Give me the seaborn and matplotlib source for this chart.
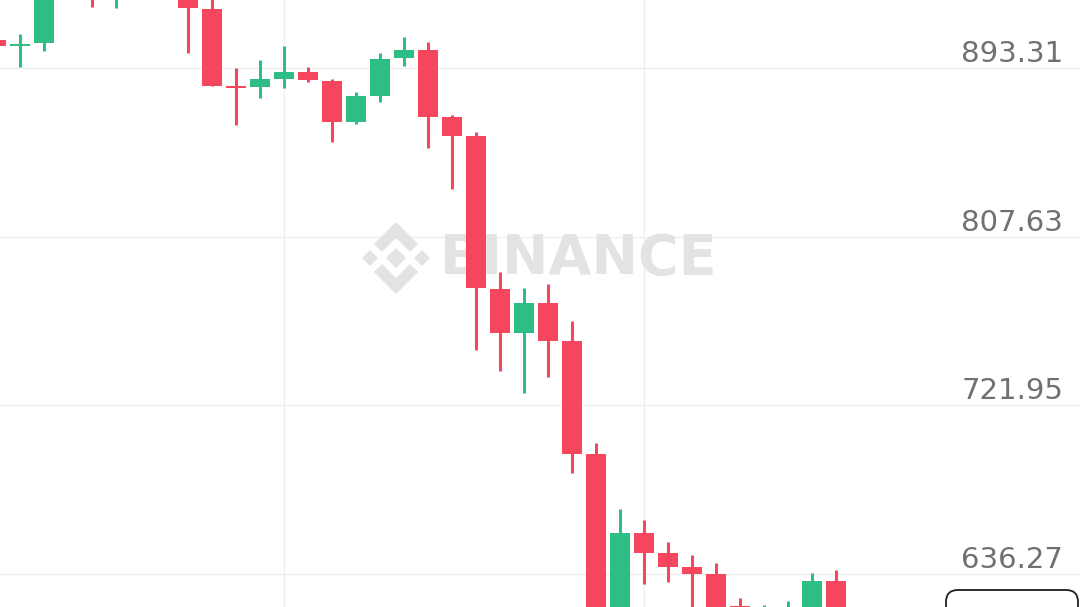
import numpy as np
import pandas as pd
import matplotlib
matplotlib.use("Agg")
import matplotlib.pyplot as plt
import seaborn as sns
from matplotlib.patches import Polygon, FancyBboxPatch
from matplotlib.transforms import IdentityTransform

# ---------------- data ----------------
opens  = [907.5, 904.5, 906.0, 935.0, 950.0, 935.0, 945.0, 952.0, 935.5, 923.3,
          883.7, 883.7, 887.7, 891.3, 886.7, 865.9, 879.1, 898.4, 902.5, 868.4,
          858.8, 781.0, 758.7, 773.9, 754.6, 697.2, 605.0, 657.1, 646.9, 639.8,
          636.3, 620.0, 614.0, 616.0, 618.0, 632.7]
closes = [904.5, 905.5, 933.0, 940.0, 935.0, 945.0, 952.0, 940.0, 923.8, 884.2,
          883.2, 887.7, 891.3, 887.2, 865.9, 879.1, 897.9, 902.5, 868.4, 858.8,
          781.6, 758.7, 773.9, 754.6, 697.2, 605.0, 657.1, 646.9, 639.8, 636.3,
          616.0, 614.0, 617.0, 618.0, 632.7, 618.0]
highs  = [908.0, 910.6, 937.0, 945.0, 955.0, 950.0, 958.0, 956.0, 940.0, 930.4,
          893.3, 897.4, 904.5, 893.8, 887.7, 881.1, 900.9, 909.1, 906.5, 869.4,
          860.8, 789.7, 781.6, 783.6, 764.8, 702.8, 669.3, 663.7, 652.5, 646.1,
          641.9, 624.1, 620.5, 622.6, 636.8, 638.4]
lows   = [904.0, 893.8, 902.0, 928.5, 924.3, 923.8, 938.0, 934.0, 900.9, 884.0,
          864.4, 878.1, 883.2, 886.2, 855.7, 864.9, 876.0, 894.3, 852.7, 831.8,
          750.1, 739.4, 728.2, 736.3, 687.6, 600.0, 598.0, 631.2, 632.2, 615.0,
          610.0, 608.0, 610.0, 612.0, 615.0, 612.0]
price_ticks = [893.31, 807.63, 721.95, 636.27]
tick_labels = ["893.31", "807.63", "721.95", "636.27"]
time_grid = [12, 27]

df = pd.DataFrame({"o": opens, "c": closes, "h": highs, "l": lows})
df["i"] = np.arange(len(df))
df["up"] = df["c"] >= df["o"]

UP = "#2EBD85"
DOWN = "#F6465D"

sns.set_theme(style="white")
plt.rcParams["font.family"] = ["DejaVu Sans"]

fig = plt.figure(figsize=(10.8, 6.07), dpi=100)
ax = fig.add_axes([0, 0, 1, 1])
ax.set_facecolor("white")

ax.set_xlim(0.1667, 45.17)
ax.set_ylim(619.51, 927.85)

# grid
for v in price_ticks:
    ax.axhline(v, color="#EEEEEE", lw=0.9, zorder=0)
for t in time_grid:
    ax.axvline(t, color="#EEEEEE", lw=0.9, zorder=0)

# watermark
W, H = 1080.0, 607.0
def px(dx, dy, cx=396, cy=258):
    return ((cx + dx) / W, 1 - (cy + dy) / H)

wm = "#E3E3E3"
shapes = [
    [(0, -10), (10, 0), (0, 10), (-10, 0)],
    [(-26, -8), (-18, 0), (-26, 8), (-34, 0)],
    [(26, -8), (34, 0), (26, 8), (18, 0)],
    [(-22, -14), (0, -36), (22, -14), (14, -6), (0, -20), (-14, -6)],
    [(-22, 14), (0, 36), (22, 14), (14, 6), (0, 20), (-14, 6)],
]
for s in shapes:
    ax.add_patch(Polygon([px(a, b) for a, b in s], closed=True,
                         transform=ax.transAxes, facecolor=wm, edgecolor="none", zorder=1))
ax.text(440 / W, 1 - 259 / H, "BINANCE", transform=ax.transAxes, ha="left", va="center",
        fontsize=40, fontweight="bold", color=wm, zorder=1)

# candles
colors = np.where(df["up"], UP, DOWN)
ax.vlines(df["i"], df["l"], df["h"], colors=colors, lw=2.2, zorder=3)
bottoms = np.minimum(df["o"], df["c"])
heights = np.maximum(np.abs(df["c"] - df["o"]), 0.9)
ax.bar(df["i"], heights, bottom=bottoms, width=0.83, color=colors, edgecolor="none", zorder=4)

# price labels
for v, lab in zip(price_ticks, tick_labels):
    ax.annotate(lab, xy=(1, v), xycoords=("axes fraction", "data"),
                xytext=(-12, 4.3), textcoords="offset points", ha="right", va="baseline",
                fontsize=21, color="#707070", zorder=5)

# current price tag (cut off at bottom)
ax.add_artist(FancyBboxPatch((946, -25), 132, 42, boxstyle="round,pad=0,rounding_size=12",
                             transform=IdentityTransform(), facecolor="white",
                             edgecolor="#1E1E1E", lw=1.3, zorder=6, clip_on=False))

ax.set_xticks([])
ax.set_yticks([])
for sp in ax.spines.values():
    sp.set_visible(False)

fig.savefig("out.png", dpi=100)
